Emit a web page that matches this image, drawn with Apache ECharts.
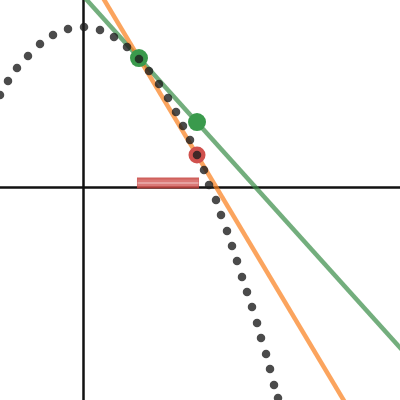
<!DOCTYPE html>
<html>
<head>
<meta charset="utf-8">
<script src="https://cdn.jsdelivr.net/npm/echarts@6/dist/echarts.min.js"></script>
<style>
  html, body { margin: 0; padding: 0; background: #fff; }
  #chart { width: 400px; height: 400px; }
</style>
</head>
<body>
<div id="chart"></div>
<script>
// dotted curve
var curveX = [-1.456, -1.316, -1.158, -0.965, -0.754, -0.526, -0.263, 0.018, 0.298, 0.544, 0.772, 0.982,
  1.158, 1.333, 1.491, 1.632, 1.754, 1.877, 2.0, 2.123, 2.211, 2.333, 2.421, 2.526, 2.614, 2.702,
  2.789, 2.877, 2.965, 3.053, 3.123, 3.211, 3.281, 3.351, 3.421];
var curveY = [1.614, 1.860, 2.088, 2.298, 2.509, 2.667, 2.772, 2.807, 2.754, 2.632, 2.456, 2.246,
  2.035, 1.807, 1.561, 1.316, 1.070, 0.825, 0.561, 0.298, 0.035, -0.228, -0.491, -0.772, -1.035, -1.298,
  -1.579, -1.842, -2.105, -2.386, -2.649, -2.930, -3.193, -3.474, -3.702];

// tangent (green) and secant (orange) lines, end points
var tangentLine = [[-1.5, 5.02], [5.6, -2.86]];
var secantLine = [[0.2, 3.57], [4.8, -4.12]];

// points
var pointA = [0.982, 2.263];   // on curve, green ring
var pointB = [2.0, 0.561];     // on curve, red ring
var pointT = [2.0, 1.14];      // on tangent, green

// dx bar
var dxBar = [[0.947, 0.07], [2.035, 0.07]];
var dxEnds = [[0.956, 0.07], [2.026, 0.07]];

var chart = echarts.init(document.getElementById('chart'));

var curveData = [];
for (var i = 0; i < curveX.length; i++) {
  curveData.push([curveX[i], curveY[i]]);
}

var option = {
  animation: false,
  grid: { left: 0, right: 0, top: 0, bottom: 0 },
  xAxis: {
    type: 'value',
    min: -1.456, max: 5.561,
    axisLine: { onZero: true, lineStyle: { color: '#111', width: 2.5 } },
    axisTick: { show: false },
    axisLabel: { show: false },
    splitLine: { show: false }
  },
  yAxis: {
    type: 'value',
    min: -3.737, max: 3.281,
    axisLine: { onZero: true, lineStyle: { color: '#111', width: 2.5 } },
    axisTick: { show: false },
    axisLabel: { show: false },
    splitLine: { show: false }
  },
  series: [
    {
      type: 'line', data: tangentLine, symbol: 'none', z: 2,
      lineStyle: { color: '#388c46', opacity: 0.7, width: 4.5 }
    },
    {
      type: 'line', data: secantLine, symbol: 'none', z: 3,
      lineStyle: { color: '#fa7e19', opacity: 0.7, width: 4.5 }
    },
    {
      type: 'line', data: dxBar, symbol: 'none', z: 4,
      lineStyle: { color: '#c74440', opacity: 0.85, width: 11, cap: 'butt' }
    },
    {
      type: 'line', data: dxEnds, symbol: 'none', z: 5,
      lineStyle: { color: '#e89a98', opacity: 0.45, width: 7, cap: 'butt' }
    },
    {
      type: 'line', data: dxEnds, symbol: 'none', z: 5,
      lineStyle: { color: '#fff', opacity: 0.3, width: 2 }
    },
    {
      type: 'scatter', data: [pointA, pointT], symbolSize: 18, z: 6,
      itemStyle: { color: '#3a9a4c', opacity: 1 }
    },
    {
      type: 'scatter', data: [pointB], symbolSize: 17, z: 6,
      itemStyle: { color: '#d0514d', opacity: 1 }
    },
    {
      type: 'scatter', data: curveData, symbolSize: 8.5, z: 7,
      itemStyle: { color: '#1e1e1e', opacity: 0.8 }
    }
  ]
};

chart.setOption(option);
</script>
</body>
</html>
